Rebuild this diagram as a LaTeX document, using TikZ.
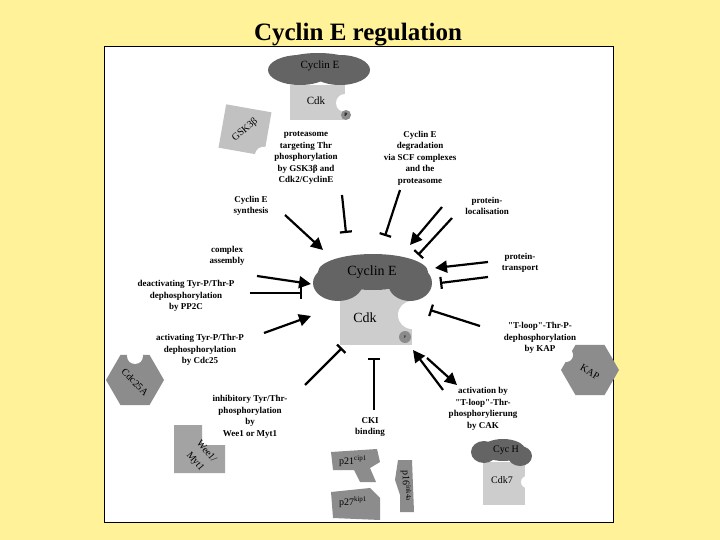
\documentclass[tikz,border=0pt]{standalone}
\usepackage{fontspec}
\setmainfont{Liberation Serif}[Ligatures=TeXOff]
\usetikzlibrary{arrows.meta,shapes.geometric}
\definecolor{bgy}{RGB}{255,242,153}
\definecolor{cyc}{RGB}{100,100,100}
\definecolor{cdk}{RGB}{205,205,205}
\definecolor{prot}{RGB}{140,140,140}
\tikzset{
 lab/.style={font=\bfseries\fontsize{9}{11.5}\selectfont,align=center,inner sep=0},
 act/.style={line width=2.2pt,-{Triangle[length=12pt,width=12pt]}},
 inh/.style={line width=2.2pt,-{Bar[width=12pt,line width=2.2pt]}},
 cyct/.style={font=\fontsize{13}{13}\selectfont,inner sep=0},
}
\begin{document}
\begin{tikzpicture}[x=1pt,y=-1pt]
\fill[bgy] (0,0) rectangle (720,540);
\useasboundingbox (0,0) rectangle (720,540);
\fill[white] (104,47) rectangle (613,522);
\draw[line width=1pt] (104,47) rectangle (613,522);
\node[font=\bfseries\fontsize{25}{25}\selectfont] (title) at (358,35) {Cyclin E regulation};
% top complex
\fill[cdk] (290,85) rectangle (345,120);
\fill[white] (345,103) circle (9);
\fill[prot] (346,115) circle (5); \node[font=\bfseries\fontsize{5}{5}\selectfont] at (346,115) {P};
\fill[cyc] (300,70) ellipse (32 and 15); \fill[cyc] (340,70) ellipse (30 and 15); \fill[cyc] (318,63) ellipse (35 and 10);
\node[cyct,font=\fontsize{11}{11}\selectfont] (topcyc) at (320,66) {Cyclin E};
\node[font=\fontsize{11}{11}\selectfont] (topcdk) at (316,101) {Cdk};
% GSK3b
\begin{scope}[shift={(245,130)},rotate=-10]
\fill[cdk!85!gray] (-23,-22) rectangle (23,22);
\fill[white] (23,22) circle (9);
\node[rotate=40,font=\fontsize{10}{10}\selectfont] (gsk) at (0,0) {GSK3β};
\end{scope}
% central complex
\fill[cdk] (340,290) rectangle (412,345);
\fill[white] (412,315) circle (14);
\fill[prot] (405,337) circle (6); \node[font=\fontsize{4}{4}\selectfont] at (405,337) {P};
\fill[cyc] (338,283) ellipse (25 and 18); \fill[cyc] (410,283) ellipse (22 and 18); \fill[cyc] (373,272) ellipse (55 and 18);
\node[cyct,font=\fontsize{14}{14}\selectfont] (cyc) at (372,272) {Cyclin E};
\node[font=\fontsize{14}{14}\selectfont] (cdkc) at (365,318) {Cdk};
% labels
\node[lab] (l1) at (306,158) {proteasome\\targeting Thr\\phosphorylation\\by GSK3β and\\Cdk2/CyclinE};
\node[lab] (l2) at (420,158) {Cyclin E\\degradation\\via SCF complexes\\and the\\proteasome};
\node[lab] (l3) at (251,206) {Cyclin E\\synthesis};
\node[lab] (l4) at (487,206) {protein-\\localisation};
\node[lab] (l5) at (227,256) {complex\\assembly};
\node[lab] (l6) at (520,263) {protein-\\transport};
\node[lab] (l7) at (186,296) {deactivating Tyr-P/Thr-P\\dephosphorylation\\by PP2C};
\node[lab] (l8) at (200,350) {activating Tyr-P/Thr-P\\dephosphorylation\\by Cdc25};
\node[lab] (l9) at (540,338) {"T-loop"-Thr-P-\\dephosphorylation\\by KAP};
\node[lab] (l10) at (250,417) {inhibitory Tyr/Thr-\\phosphorylation\\by\\Wee1 or Myt1};
\node[lab] (l11) at (370,427) {CKI\\binding};
\node[lab] (l12) at (483,409) {activation by\\"T-loop"-Thr-\\phosphorylierung\\by CAK};
% connectors
\coordinate (a1s) at (285,215); \coordinate (a1e) at (323,250);
\coordinate (b1s) at (342,195); \coordinate (b1e) at (346,233);
\coordinate (b2s) at (400,190); \coordinate (b2e) at (385,236);
\coordinate (a2s) at (442,207); \coordinate (a2e) at (410,245);
\coordinate (b3s) at (452,218); \coordinate (b3e) at (418,255);
\coordinate (a3s) at (488,262); \coordinate (a3e) at (435,268);
\coordinate (b4s) at (488,277); \coordinate (b4e) at (440,283);
\coordinate (a4s) at (257,276); \coordinate (a4e) at (311,284);
\coordinate (b5s) at (250,293); \coordinate (b5e) at (302,293);
\coordinate (a5s) at (264,333); \coordinate (a5e) at (311,316);
\coordinate (b6s) at (305,385); \coordinate (b6e) at (342,348);
\coordinate (b7s) at (374,410); \coordinate (b7e) at (374,358);
\coordinate (b8s) at (480,326); \coordinate (b8e) at (430,310);
\coordinate (a6s) at (427,358); \coordinate (a6e) at (457,385);
\coordinate (a7s) at (443,390); \coordinate (a7e) at (413,350);
\draw[act] (a1s) -- (a1e); \draw[act] (a2s) -- (a2e); \draw[act] (a3s) -- (a3e);
\draw[act] (a4s) -- (a4e); \draw[act] (a5s) -- (a5e); \draw[act] (a6s) -- (a6e); \draw[act] (a7s) -- (a7e);
\draw[inh] (b1s) -- (b1e); \draw[inh] (b2s) -- (b2e); \draw[inh] (b3s) -- (b3e); \draw[inh] (b4s) -- (b4e);
\draw[inh] (b5s) -- (b5e); \draw[inh] (b6s) -- (b6e); \draw[inh] (b7s) -- (b7e); \draw[inh] (b8s) -- (b8e);
% Cdc25A
\node[regular polygon,regular polygon sides=6,fill=prot,minimum size=58pt,inner sep=0] (cdc) at (135,380) {};
\fill[white] (135,356) circle (8);
\node[rotate=-45,font=\fontsize{10}{10}\selectfont] at (135,382) {Cdc25A};
% KAP
\node[regular polygon,regular polygon sides=6,fill=prot,minimum size=58pt,inner sep=0] (kap) at (590,370) {};
\fill[white] (566,355) circle (7);
\node[rotate=-30,font=\fontsize{10}{10}\selectfont] at (590,372) {KAP};
% Wee1/Myt1
\fill[prot!80!white] (174,425) -- (202,425) -- (202,445) -- (225,445) -- (225,473) -- (174,473) -- cycle;
\node[rotate=-50,font=\fontsize{10}{10}\selectfont,inner sep=0] (wee) at (207,451) {Wee1/};
\node[rotate=-50,font=\fontsize{10}{10}\selectfont,inner sep=0] (myt) at (195,462) {Myt1};
% p21 p27 p16
\fill[prot] (331,452) -- (377,449) -- (380,462) -- (370,468) -- (376,482) -- (360,482) -- (354,470) -- (333,470) -- cycle;
\node[font=\fontsize{10}{10}\selectfont] (p21) at (353,461) {p21$^{\mathrm{cip1}}$};
\fill[prot] (331,492) -- (370,488) -- (380,498) -- (380,520) -- (333,518) -- cycle;
\node[font=\fontsize{10}{10}\selectfont] (p27) at (353,502) {p27$^{\mathrm{kip1}}$};
\fill[prot] (398,460) -- (412,460) -- (414,512) -- (400,512) -- (400,495) -- (395,480) -- cycle;
\node[rotate=-90,font=\fontsize{10}{10}\selectfont] (p16) at (406,486) {p16$^{\mathrm{ink4a}}$};
% CycH / Cdk7
\fill[cdk] (483,462) rectangle (525,505);
\fill[white] (527,482) circle (6);
\fill[cyc] (484,452) ellipse (13 and 11); \fill[cyc] (520,456) ellipse (12 and 10); \fill[cyc] (503,450) ellipse (22 and 11);
\node[font=\fontsize{10}{10}\selectfont] (cych) at (506,450) {Cyc H};
\node[font=\fontsize{10}{10}\selectfont] (cdk7) at (502,480) {Cdk7};
\end{tikzpicture}
\end{document}
